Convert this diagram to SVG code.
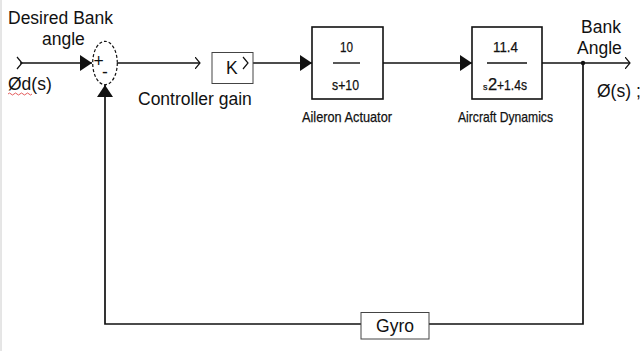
<svg xmlns="http://www.w3.org/2000/svg" width="640" height="351" viewBox="0 0 640 351">
<style>
.lbl{font-family:"Liberation Sans",Arial,sans-serif;font-size:17.5px;fill:#111}
.nar{font-family:"Liberation Sans",Arial,sans-serif;font-size:15px;fill:#111;stroke:#111;stroke-width:0.25}
.ln{fill:none;stroke:#111;stroke-width:1.7}
.blk{fill:#fff;stroke:#111;stroke-width:1.6}
.thin{fill:#fff;stroke:#444;stroke-width:1}
.chev{fill:none;stroke:#111;stroke-width:1.2}
</style>
<defs>
<marker id="fa" markerWidth="12" markerHeight="16" refX="12" refY="8" orient="auto" markerUnits="userSpaceOnUse">
<path d="M0,0 L12,8 L0,16 Z" fill="#111"/>
</marker>
<marker id="oa" markerWidth="6" markerHeight="12" refX="5" refY="6" orient="auto" markerUnits="userSpaceOnUse">
<path d="M0,0 L5,6 L0,12" fill="none" stroke="#111" stroke-width="1.2"/>
</marker>
</defs>
<rect x="0" y="0" width="640" height="351" fill="#fff"/>
<line x1="1" y1="0" x2="1" y2="351" stroke="#ccc" stroke-width="1"/>

<g id="connectors">
<path class="ln" d="M20,63 H92" marker-end="url(#fa)"/>
<path class="chev" d="M17,57 L22,63 L17,69"/>
<path class="ln" d="M117,63 H200" marker-end="url(#oa)"/>
<path class="ln" d="M248,63 H312" marker-end="url(#fa)"/>
<path class="ln" d="M383,63 H472" marker-end="url(#fa)"/>
<path class="ln" d="M542,63 H630" marker-end="url(#oa)"/>
<path class="ln" d="M583,63 V324 H429"/>
<path class="ln" d="M361,324 H105 V85" marker-end="url(#fa)"/>
<circle cx="583" cy="63" r="2.2" fill="#111"/>
</g>

<g id="input-label">
<text class="lbl" x="8" y="24">Desired Bank</text>
<text class="lbl" x="42" y="45">angle</text>
<text class="lbl" x="8" y="90">Ød(s)</text>
<path d="M8,94 q1.5,-2 3,0 t3,0 t3,0 t3,0 t3,0 t3,0 t3,0 t3,0" fill="none" stroke="#d33" stroke-width="0.8"/>
</g>

<g id="sum">
<ellipse cx="105" cy="63" rx="12.3" ry="21.7" fill="#fff" stroke="#111" stroke-width="1.2" stroke-dasharray="3,2"/>
<text class="lbl" x="98.5" y="67" font-size="11" text-anchor="middle">+</text>
<text class="lbl" x="105" y="78" font-size="11" text-anchor="middle">-</text>
</g>

<g id="gain">
<rect class="thin" x="212" y="52.5" width="41" height="31"/>
<text class="lbl" x="226" y="74" font-size="16">K</text>
<path class="chev" d="M243,57 L248,63 L243,69"/>
<text class="lbl" x="138" y="105">Controller gain</text>
</g>

<g id="actuator">
<rect class="blk" x="312" y="27" width="71" height="72"/>
<text class="nar" x="340" y="52" font-size="16.5" textLength="13" lengthAdjust="spacingAndGlyphs">10</text>
<line x1="333" y1="63" x2="360" y2="63" stroke="#111" stroke-width="1.4"/>
<text class="nar" x="332" y="90" font-size="14" textLength="27" lengthAdjust="spacingAndGlyphs">s+10</text>
<text class="nar" x="302" y="122" textLength="90" lengthAdjust="spacingAndGlyphs">Aileron Actuator</text>
</g>

<g id="dynamics">
<rect class="blk" x="472" y="27" width="70" height="72"/>
<text class="nar" x="493" y="52" font-size="16.5" textLength="25" lengthAdjust="spacingAndGlyphs">11.4</text>
<line x1="487" y1="63" x2="527" y2="63" stroke="#111" stroke-width="1.4"/>
<text class="nar" y="90"><tspan x="483" font-size="9">s</tspan><tspan x="488" font-size="16.5">2</tspan><tspan x="497" font-size="14" textLength="30" lengthAdjust="spacingAndGlyphs">+1.4s</tspan></text>
<text class="nar" x="458" y="122" textLength="95" lengthAdjust="spacingAndGlyphs">Aircraft Dynamics</text>
</g>

<g id="output-label">
<text class="lbl" x="581" y="33">Bank</text>
<text class="lbl" x="577" y="54">Angle</text>
<text class="lbl" x="597" y="97">Ø(s) ;</text>
</g>

<g id="gyro">
<rect class="thin" x="361" y="312.5" width="68" height="26.5"/>
<text class="lbl" x="395" y="332" text-anchor="middle">Gyro</text>
</g>
</svg>
